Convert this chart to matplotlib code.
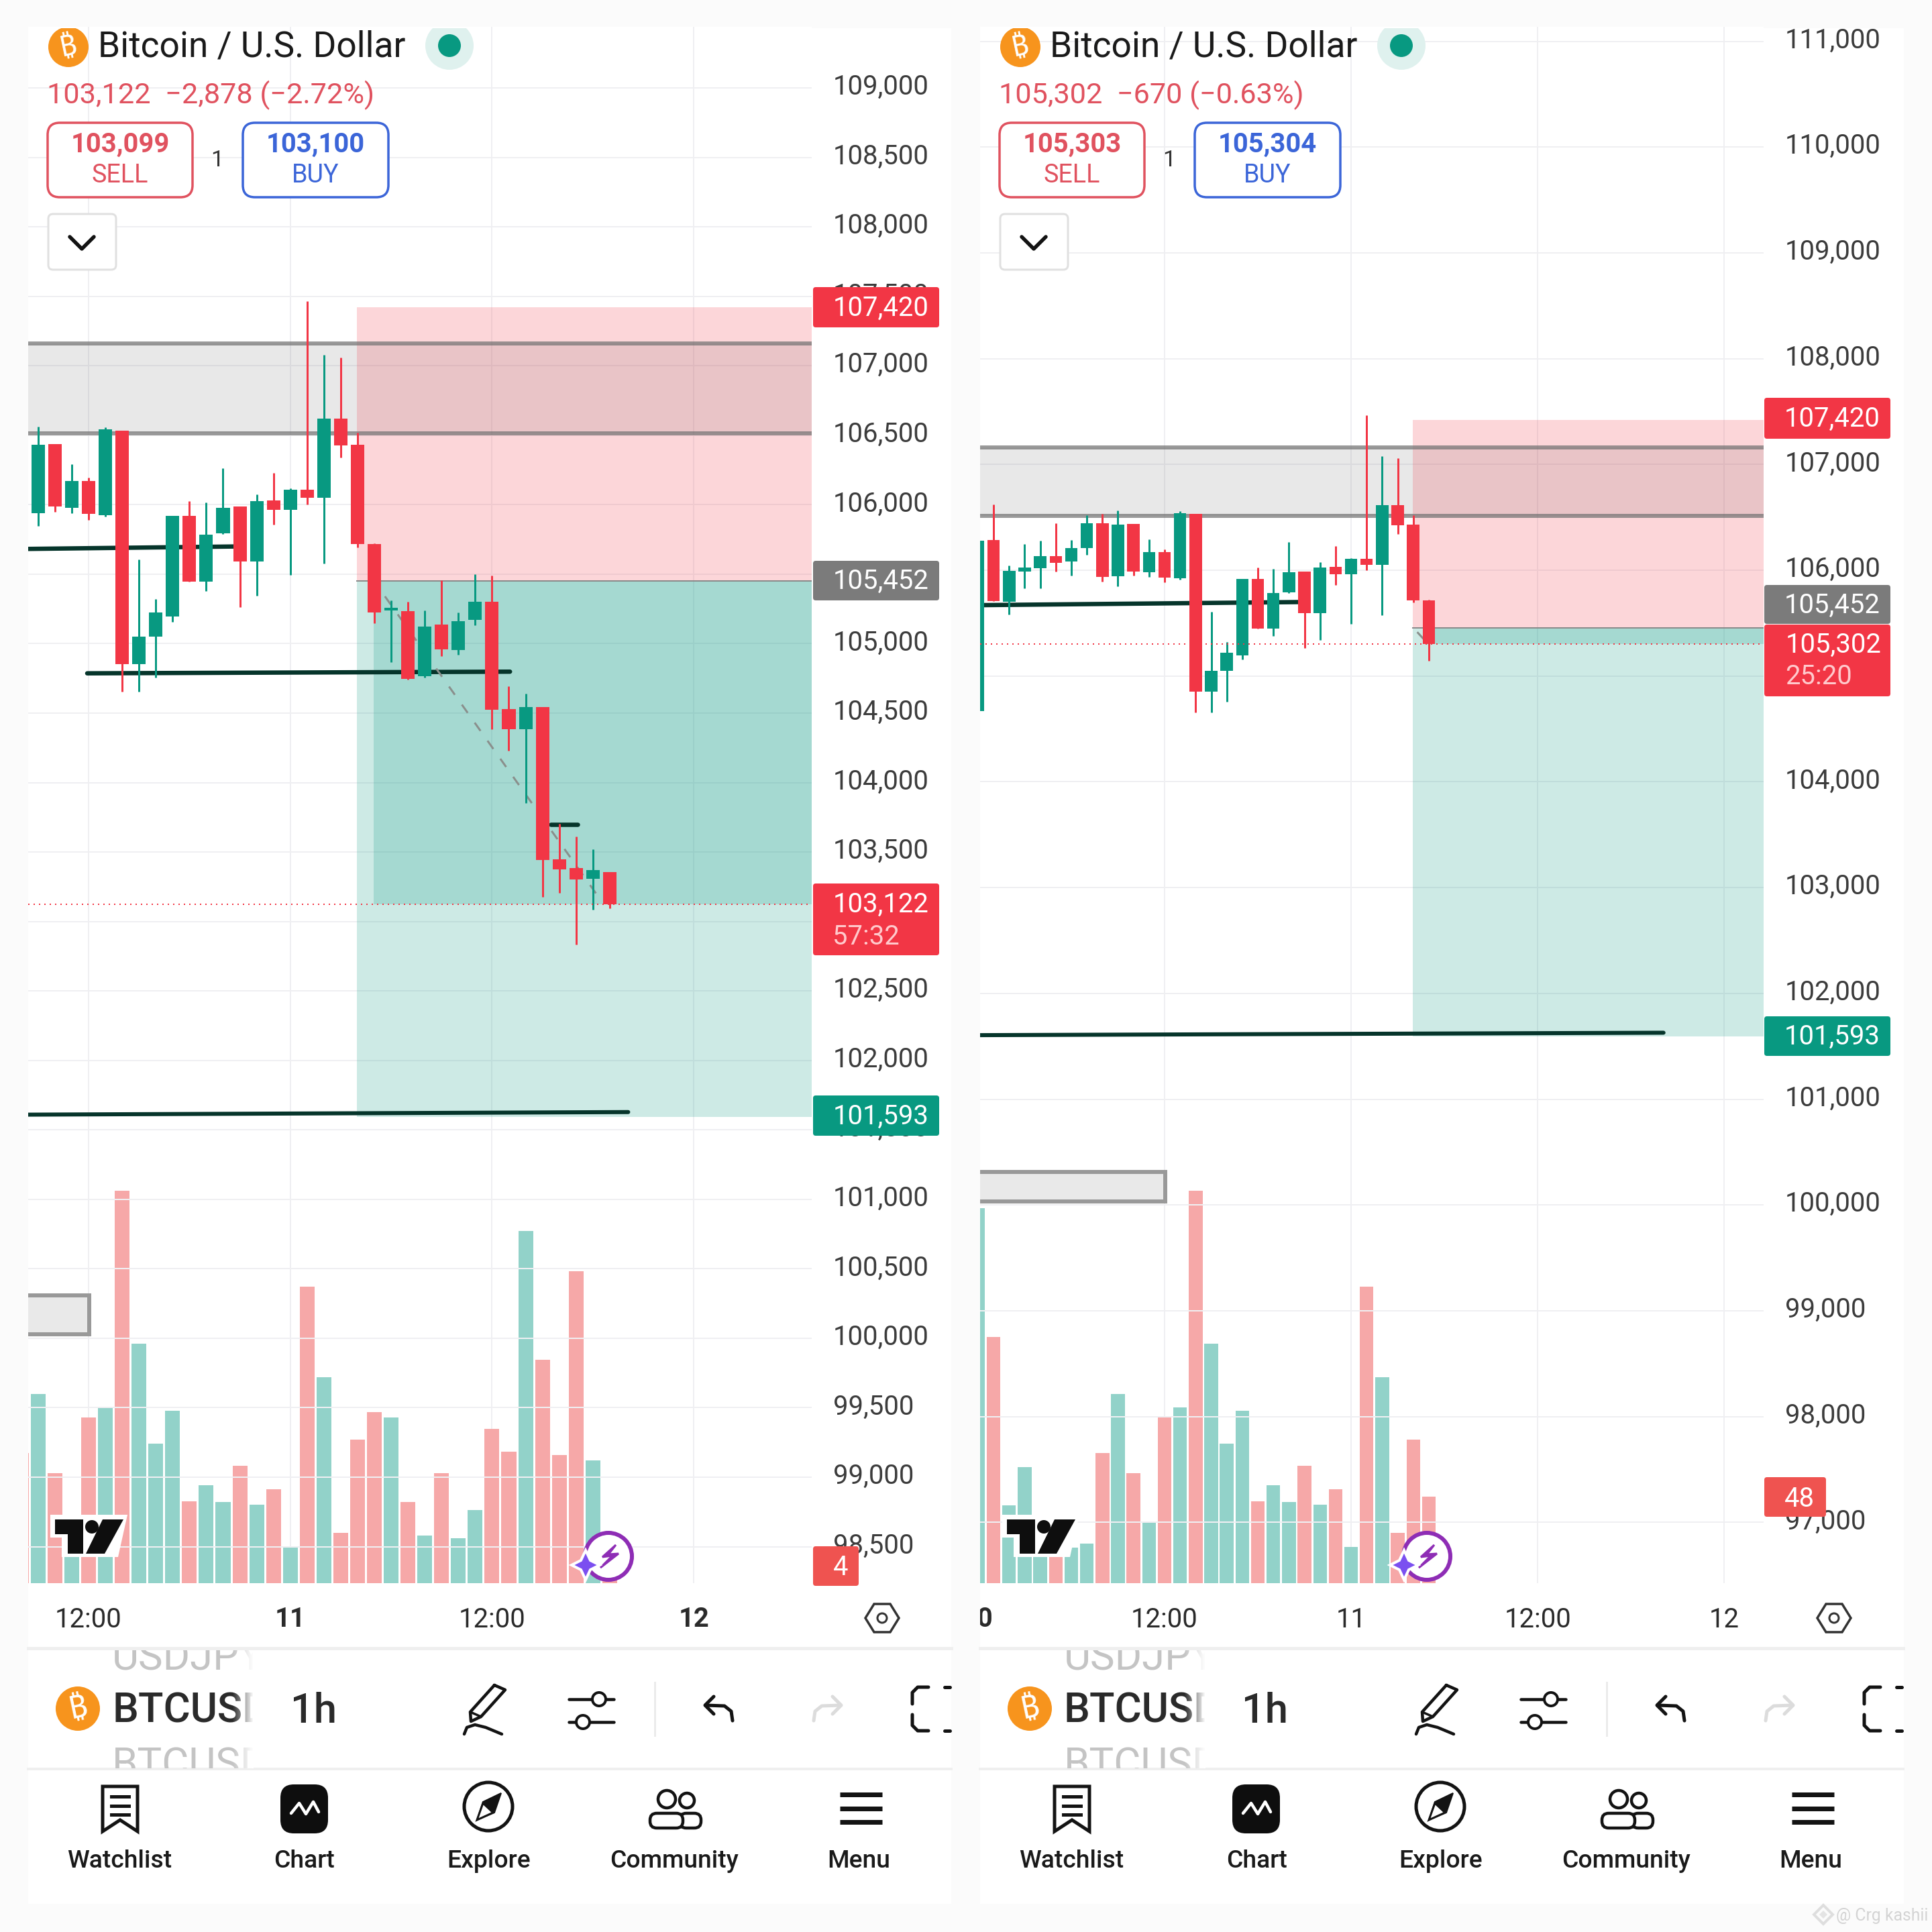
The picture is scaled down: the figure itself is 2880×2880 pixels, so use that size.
import numpy as np
import matplotlib
matplotlib.use('Agg')
import matplotlib.pyplot as plt
from matplotlib.patches import Circle, FancyBboxPatch, Polygon, Rectangle
from matplotlib.ticker import FixedLocator, FuncFormatter
from matplotlib.transforms import ScaledTranslation

plt.rcParams['font.family'] = ['Roboto', 'DejaVu Sans']

# hourly bars, hour 0 = 12:00 on the 10th
hours = list(range(-12, 32))
bar_open = [104668, 106287, 105704, 105989, 106017, 106135, 106080, 106209, 106441,
            105941, 106437, 105978, 106172, 105925, 106535, 104854, 105048, 105195,
            105919, 105448, 105793, 105987, 105593, 106030, 105965, 106110, 106052,
            106618, 106431, 105716, 105239, 105236, 104764, 105137, 104955, 105171,
            105303, 104527, 104382, 104542, 103449, 103384, 103308, 103357]
bar_close = [106279, 105708, 105995, 106025, 106135, 106069, 106207, 106441, 105936,
             106431, 105987, 106172, 105932, 106541, 104854, 105051, 105223, 105919,
             105448, 105784, 105978, 105593, 106024, 105965, 106107, 106049, 106618,
             106427, 105716, 105223, 105257, 104746, 105121, 104958, 105162, 105303,
             104524, 104382, 104542, 103443, 103375, 103304, 103369, 103122]
bar_high = [106279, 106621, 106042, 106247, 106279, 106441, 106285, 106518, 106532,
            106563, 106437, 106289, 106196, 106557, 106535, 105605, 105322, 105919,
            106024, 106015, 106264, 105987, 106073, 106227, 106116, 107465, 107080,
            107059, 106517, 105719, 105309, 105303, 105239, 105454, 105223, 105500,
            105491, 104693, 104641, 104542, 103702, 103609, 103520, 103357]
bar_low = [104668, 105708, 105581, 105831, 105831, 105989, 105947, 106148, 105894,
           105848, 105950, 105938, 105888, 105913, 104653, 104653, 104755, 105155,
           105448, 105380, 105787, 105263, 105343, 105858, 105494, 106002, 105577,
           106341, 105694, 105146, 104869, 104740, 104758, 104909, 104918, 105134,
           104385, 104231, 103853, 103178, 103206, 102836, 103086, 103095]
volume = [1252, 822, 260, 387, 157, 157, 119, 132, 435, 632, 367, 202, 554, 587, 1311,
          800, 465, 576, 273, 327, 271, 393, 261, 314, 121, 990, 687, 168, 479, 572,
          554, 270, 159, 367, 150, 245, 515, 439, 1177, 747, 427, 1041, 410, 12]

# the right screenshot was taken while hour 17 was still forming
live_bar = dict(open=105716, close=105302, high=105719, low=105144, volume=288)

stop_price = 107420
entry_price = 105452
target_price = 101593
zone_top, zone_bottom = 107158, 106512
box_top, box_bottom = 100310, 100030
trend_a = [(-11.7, 105670), (8.7, 105699)]
trend_b = [(-0.08, 104786), (25.07, 104798)]
trend_c = [(27.5, 103698), (29.1, 103698)]
trend_d = [(-12, 101605), (32.1, 101628)]
path_left = [(17.63, 105340), (30.56, 103138)]
path_right = [(16.3, 105408), (16.9, 105312)]

left_ticks = list(range(98500, 109001, 500))
right_ticks = list(range(97000, 111001, 1000))

GREEN = '#089981'
RED = '#F23645'
TEXT_RED = '#E0525F'
BLUE = '#3B65D8'
INK = '#131313'
DARK_LINE = '#06352B'

W = 2880
fig = plt.figure(figsize=(10, 10), dpi=288, facecolor='#FBFBFB')
PX = 72 / 288  # points per pixel


def box(x0, y0, x1, y1):
    return [x0 / W, 1 - y1 / W, (x1 - x0) / W, (y1 - y0) / W]


def draw_chart(x0, x1, t_x, px_per_hour, p0, p0_y, px_per_price, ticks, grid_hours, n_bars, live, last_price):
    y0, y1 = 40, 2360
    vol_ax = fig.add_axes(box(x0, y0, x1, y1), zorder=2)
    ax = vol_ax.twinx()
    ax.set_zorder(3)
    ax.patch.set_visible(False)
    xlim = ((x0 - t_x) / px_per_hour, (x1 - t_x) / px_per_hour)
    vol_ax.set_xlim(xlim)
    vol_ax.set_ylim(0, (y1 - y0) / 0.4464)
    ax.set_ylim(p0 - (y1 - p0_y) / px_per_price, p0 + (p0_y - y0) / px_per_price)
    for a in (vol_ax, ax):
        for s in a.spines.values():
            s.set_visible(False)

    t = np.array(hours[:n_bars], dtype=float)
    o = list(bar_open[:n_bars])
    c = list(bar_close[:n_bars])
    h = list(bar_high[:n_bars])
    l = list(bar_low[:n_bars])
    v = list(volume[:n_bars])
    if live:
        t = np.append(t, 17.0)
        o.append(live['open']); c.append(live['close'])
        h.append(live['high']); l.append(live['low'])
        v.append(live['volume'])
    o, c, h, l, v = map(np.array, (o, c, h, l, v))
    up = c >= o
    colors = np.where(up, GREEN, RED)

    # grid
    vol_ax.set_yticks([])
    vol_ax.xaxis.set_major_locator(FixedLocator(grid_hours))
    vol_ax.tick_params(axis='x', length=0, labelbottom=False)
    vol_ax.grid(axis='x', color='#EFEFF2', lw=2 * PX, zorder=0)
    vol_ax.set_axisbelow(True)
    ax.yaxis.set_major_locator(FixedLocator(ticks))
    ax.yaxis.set_major_formatter(FuncFormatter(lambda p, _: f'{int(p):,}'))
    ax.tick_params(axis='y', length=0, pad=7.9, labelsize=10, labelcolor='#3C3C3C')
    for lab in ax.get_yticklabels():
        lab.set_ha('left')
        lab.set_transform(lab.get_transform() + ScaledTranslation(0, 5.5 / 288, fig.dpi_scale_trans))
    ax.grid(axis='y', color='#EFEFF2', lw=2 * PX, zorder=0)
    ax.set_axisbelow(True)

    # volume
    vol_ax.bar(t, v, width=0.88, color=np.where(up, '#92D2C9', '#F6A8A8'), zorder=1)

    # sell position and range box
    end = xlim[1]
    start = 15.95
    ax.fill_between(xlim, zone_bottom, zone_top, color='#808080', alpha=0.18, lw=0, zorder=1)
    ax.fill_between([start, end], entry_price, stop_price, color=RED, alpha=0.2, lw=0, zorder=1.1)
    ax.fill_between([start, end], target_price, entry_price, color=GREEN, alpha=0.2, lw=0, zorder=1.1)
    ax.fill_between([16.95, end], last_price, entry_price, color=GREEN, alpha=0.2, lw=0, zorder=1.1)
    ax.plot([start, end], [entry_price, entry_price], color='#8A8A8A', lw=2 * PX, zorder=1.2)
    for p in (zone_top, zone_bottom):
        ax.plot(xlim, [p, p], color='#707070', alpha=0.7, lw=6 * PX, zorder=1.3, solid_capstyle='butt')
    ax.add_patch(Rectangle((-13, box_bottom), 13.05, box_top - box_bottom, fc='#E9E9E9',
                           ec='#999999', lw=6 * PX, zorder=1.3))
    # candles
    ax.vlines(t, l, h, colors=colors, lw=3 * PX, zorder=5)
    ax.bar(t, np.abs(c - o), bottom=np.minimum(o, c), width=0.8, color=colors, zorder=5)
    ax.plot(xlim, [last_price, last_price], color=RED, lw=2 * PX, ls=(0, (1, 3)), zorder=6)
    return ax, xlim


# chart panels ------------------------------------------------------------------
base = fig.add_axes([0, 0, 1, 1], zorder=0)
base.set_xlim(0, W); base.set_ylim(W, 0); base.axis('off')
base.add_patch(Rectangle((42, 42), 1376, 2796, fc='white', ec='none'))
base.add_patch(Rectangle((1461, 42), 1377, 2796, fc='white', ec='none'))

ax_l, xlim_l = draw_chart(42, 1210, 132, 25.06, 109000, 131, 0.2071, left_ticks,
                          [0, 12, 24, 36], 44, None, 103122)
ax_r, xlim_r = draw_chart(1461, 2629, 1736, 23.17, 111000, 61.5, 0.1577, right_ticks,
                          [0, 12, 24, 36], 29, live_bar, 105302)

for ax in (ax_l, ax_r):
    ax.plot(*zip(*trend_a), color=DARK_LINE, lw=6.5 * PX, zorder=4, solid_capstyle='round')
    ax.plot(*zip(*trend_d), color=DARK_LINE, lw=6 * PX, zorder=4, solid_capstyle='round')
ax_l.plot(*zip(*trend_b), color=DARK_LINE, lw=6.5 * PX, zorder=4, solid_capstyle='round')
ax_l.plot(*zip(*trend_c), color=DARK_LINE, lw=6.5 * PX, zorder=4, solid_capstyle='round')
ax_l.plot(*zip(*path_left), color='#8A8F8C', lw=3 * PX, ls=(0, (5, 6)), zorder=4)
ax_r.plot(*zip(*path_right), color='#8A8F8C', lw=3 * PX, zorder=4)

# overlay in pixel coordinates -----------------------------------------------------
ui = fig.add_axes([0, 0, 1, 1], zorder=10)
ui.set_xlim(0, W); ui.set_ylim(W, 0); ui.axis('off'); ui.patch.set_visible(False)


def txt(x, y, s, size=10, color=INK, weight='normal', ha='center', clip=None, **kw):
    t = ui.text(x, y - 2, s, fontsize=size, color=color, fontweight=weight, ha=ha, va='center_baseline', **kw)
    if clip is not None:
        t.set_clip_path(Rectangle((clip[0], clip[1]), clip[2] - clip[0], clip[3] - clip[1], transform=ui.transData))
        t.set_clip_on(True)
    return t


def rbox(x0, y0, x1, y1, r=6, fc='none', ec='none', lw=0, z=2):
    p = FancyBboxPatch((x0, y0), x1 - x0, y1 - y0, boxstyle=f'round,pad=0,rounding_size={r}', fc=fc, ec=ec, lw=lw * PX, zorder=z)
    ui.add_patch(p)
    return p


def line(pts, color=INK, lw=5, z=3, **kw):
    xs, ys = zip(*pts)
    ui.plot(xs, ys, color=color, lw=lw * PX, zorder=z, solid_capstyle='round', solid_joinstyle='round', **kw)


def btc_coin(cx, cy, r, size, top=None):
    c = Circle((cx, cy), r, fc='#F7941D', ec='none', zorder=2)
    ui.add_patch(c)
    if top is not None:
        c.set_clip_path(Rectangle((cx - r, top), 2 * r, 2 * r, transform=ui.transData))
    ui.text(cx, cy, '\u20bf', fontsize=size, color='white', fontweight='bold', ha='center', va='center',
            rotation=12, family=['Noto Sans', 'Open Sans', 'DejaVu Sans'], zorder=3)


def draw_tags(dx, rows):
    for y0, y1, fc, label in rows:
        rbox(1212 + dx, y0, 1400 + dx, y1, r=4, fc=fc, z=4)
        txt(1313 + dx, (y0 + y1) / 2 - 1, label, color='white').set_zorder(5)


def draw_header(dx, quote, sell, buy):
    halo = Circle((670 + dx, 68), 36, fc='#DFF1EE', ec='none', zorder=2)
    ui.add_patch(halo)
    halo.set_clip_path(Rectangle((620 + dx, 42), 110, 80, transform=ui.transData))
    ui.add_patch(Circle((670 + dx, 68), 17, fc=GREEN, ec='none', zorder=3))
    btc_coin(102 + dx, 70, 30, 11, top=42)
    txt(146 + dx, 67, 'Bitcoin / U.S. Dollar', size=13.3, ha='left', color='#1A1A1A')
    txt(70 + dx, 139, quote, size=10.8, ha='left', color=TEXT_RED)
    rbox(71 + dx, 183, 287 + dx, 294, r=18, fc='white', ec=TEXT_RED, lw=3.5)
    txt(179 + dx, 214, sell, size=10, color=TEXT_RED, weight='bold')
    txt(179 + dx, 259, 'SELL', size=9.4, color=TEXT_RED)
    txt(324 + dx, 237, '1', size=8.5, color='#333333')
    rbox(362 + dx, 183, 579 + dx, 294, r=18, fc='white', ec=BLUE, lw=3.5)
    txt(470 + dx, 214, buy, size=10, color=BLUE, weight='bold')
    txt(470 + dx, 259, 'BUY', size=9.4, color=BLUE)
    rbox(72 + dx, 319, 173 + dx, 402, r=7, fc='white', ec='#E0E0E0', lw=3)
    line([(104 + dx, 353), (122 + dx, 371), (140 + dx, 353)], lw=5.5)


def draw_logo(dx):
    ui.add_patch(Polygon([(75 + dx, 2258), (190 + dx, 2258), (176 + dx, 2321), (92 + dx, 2321), (92 + dx, 2292), (75 + dx, 2292)],
                         fc='white', ec='none', zorder=2))
    ui.add_patch(Polygon([(82 + dx, 2265), (124 + dx, 2265), (124 + dx, 2316), (101 + dx, 2316), (101 + dx, 2287), (82 + dx, 2287)],
                         fc='#0E0E0E', ec='none', zorder=3))
    ui.add_patch(Circle((137 + dx, 2276), 10, fc='#0E0E0E', ec='none', zorder=3))
    ui.add_patch(Polygon([(153 + dx, 2265), (184 + dx, 2265), (156 + dx, 2316), (128 + dx, 2316)], fc='#0E0E0E', ec='none', zorder=3))


def draw_bolt(cx, sx):
    cy = 2320
    ui.add_patch(Circle((cx, cy), 35, fc='white', ec='#8E2DB5', lw=6 * PX, zorder=3))
    bolt = [(11, -17), (-9, 1), (6, -1), (-12, 17), (15, -4), (0, -3)]
    ui.add_patch(Polygon([(cx + a, cy + b) for a, b in bolt], fc='#8E2DB5', ec='#8E2DB5', lw=3 * PX, zorder=4))
    sy = 2333
    star = [(0, -22), (7, -7), (21, 0), (7, 7), (0, 22), (-7, 7), (-21, 0), (-7, -7)]
    ui.add_patch(Polygon([(sx + a, sy + b) for a, b in star], fc='#7B4FF0', ec='white', lw=4 * PX, zorder=5))


def draw_toolbar(dx):
    ui.plot([42 + dx, 1418 + dx], [2457, 2457], color='#EFEFEF', lw=5 * PX, zorder=2)
    ui.plot([42 + dx, 1418 + dx], [2637, 2637], color='#EFEFEF', lw=4 * PX, zorder=2)
    # settings hexagon under the price scale
    hexa = [(1303, 2391), (1327, 2391), (1340, 2412), (1327, 2433), (1303, 2433), (1290, 2412)]
    ui.add_patch(Polygon([(a + dx, b) for a, b in hexa], fc='none', ec='#333333', lw=3.5 * PX, zorder=3))
    ui.add_patch(Circle((1315 + dx, 2412), 7, fc='none', ec='#333333', lw=3 * PX, zorder=3))

    btc_coin(116 + dx, 2547, 33, 12)
    bar_clip = (0, 2460, 378 + dx, 2636)
    txt(167 + dx, 2547, 'BTCUSD', size=15.4, color='#2A2A2A', ha='left', weight='medium', clip=bar_clip)
    txt(167 + dx, 2468, 'USDJPY', size=15.4, color='#C4C4C4', ha='left', clip=bar_clip)
    txt(167 + dx, 2628, 'BTCUSD', size=15.4, color='#C4C4C4', ha='left', clip=bar_clip)
    fade = np.ones((1, 32, 4))
    fade[0, :, 3] = np.arange(32) / 31
    ui.imshow(fade, extent=(346 + dx, 378 + dx, 2636, 2460), aspect='auto', zorder=4)
    ui.set_xlim(0, W); ui.set_ylim(W, 0)
    txt(467 + dx, 2547, '1h', size=15.4, color='#2A2A2A', weight='medium')

    # pencil
    line([(737 + dx, 2512), (753 + dx, 2519), (717 + dx, 2559), (702 + dx, 2566), (701 + dx, 2552), (737 + dx, 2512)], lw=4.5)
    line([(701 + dx, 2552), (717 + dx, 2559)], lw=3.5)
    line([(692 + dx, 2585), (696 + dx, 2575), (708 + dx, 2571), (724 + dx, 2575), (748 + dx, 2585)], lw=4.5)
    # sliders
    line([(848 + dx, 2533), (915 + dx, 2533)], lw=4.5)
    line([(848 + dx, 2567), (915 + dx, 2567)], lw=4.5)
    ui.add_patch(Circle((893 + dx, 2533), 10, fc='white', ec=INK, lw=4 * PX, zorder=4))
    ui.add_patch(Circle((869 + dx, 2567), 10, fc='white', ec=INK, lw=4 * PX, zorder=4))
    ui.plot([976 + dx, 976 + dx], [2508, 2587], color='#EBEBEB', lw=3 * PX, zorder=2)
    # undo / redo
    undo = [(1092, 2565), (1090, 2551), (1080, 2543), (1052, 2542)]
    head = [(1064, 2529), (1051, 2542), (1064, 2555)]
    line([(a + dx, b) for a, b in undo], lw=5)
    line([(a + dx, b) for a, b in head], lw=5)
    line([(2305 - a + dx, b) for a, b in undo], color='#DCDCDC', lw=5)
    line([(2305 - a + dx, b) for a, b in head], color='#DCDCDC', lw=5)
    # fullscreen corners, cut off by the panel edge
    line([(1384 + dx, 2515), (1368 + dx, 2515), (1360 + dx, 2523), (1360 + dx, 2540)], lw=5)
    line([(1384 + dx, 2580), (1368 + dx, 2580), (1360 + dx, 2572), (1360 + dx, 2556)], lw=5)
    line([(1408 + dx, 2515), (1416 + dx, 2515)], lw=5)
    line([(1408 + dx, 2580), (1416 + dx, 2580)], lw=5)

    # bottom navigation
    for x, s in zip([178, 454, 729, 1005, 1280], ['Watchlist', 'Chart', 'Explore', 'Community', 'Menu']):
        txt(x + dx, 2772, s, size=9.3, weight='medium', color='#1A1A1A')
    mark = [(153, 2663), (205, 2663), (205, 2730), (179, 2713), (153, 2730)]
    ui.add_patch(Polygon([(a + dx, b) for a, b in mark], fc='white', ec=INK, lw=5 * PX, zorder=3))
    for y in (2678, 2692, 2705):
        ui.plot([166 + dx, 192 + dx], [y, y], color=INK, lw=5 * PX, zorder=4)
    rbox(418 + dx, 2660, 489 + dx, 2733, r=20, fc='#0E0E0E', z=3)
    line([(434 + dx, 2703), (446 + dx, 2688), (456 + dx, 2704), (467 + dx, 2686), (475 + dx, 2701)], color='white', lw=4.5, z=4)
    ui.add_patch(Circle((728 + dx, 2693), 36, fc='white', ec=INK, lw=5 * PX, zorder=3))
    ui.add_patch(Polygon([(747 + dx, 2673), (737 + dx, 2702), (711 + dx, 2713), (720 + dx, 2686)], fc=INK, ec=INK, lw=2 * PX, zorder=4))
    ui.add_patch(Polygon([(711 + dx, 2713), (720 + dx, 2688), (735 + dx, 2702)], fc='white', ec=INK, lw=3 * PX, zorder=5))
    ui.add_patch(Circle((994 + dx, 2682), 13, fc='white', ec=INK, lw=4.5 * PX, zorder=3))
    ui.add_patch(Circle((1024 + dx, 2684), 11, fc='white', ec=INK, lw=4.5 * PX, zorder=3))
    rbox(1013 + dx, 2703, 1045 + dx, 2725, r=10, fc='white', ec=INK, lw=4.5, z=3)
    rbox(969 + dx, 2703, 1018 + dx, 2725, r=10, fc='white', ec=INK, lw=4.5, z=4)
    for y in (2675, 2696, 2716):
        ui.plot([1252 + dx, 1315 + dx], [y, y], color=INK, lw=7 * PX, zorder=3, solid_capstyle='butt')


# time axis labels, drawn with the same x as the grid
def time_labels(xlim, x0, x1, rows):
    for t, s, w in rows:
        px = x0 + (t - xlim[0]) / (xlim[1] - xlim[0]) * (x1 - x0)
        txt(px, 2412, s, weight=w, color='#2A2A2A', clip=(x0, 2380, x1 + 210, 2440))


time_labels(xlim_l, 42, 1210, [(0, '12:00', 'normal'), (12, '11', 'bold'), (24, '12:00', 'normal'), (36, '12', 'bold')])
time_labels(xlim_r, 1461, 2629, [(-12, '10', 'bold'), (0, '12:00', 'normal'), (12, '11', 'normal'), (24, '12:00', 'normal'), (36, '12', 'normal')])

draw_header(0, '103,122  \u22122,878 (\u22122.72%)', '103,099', '103,100')
draw_header(1419, '105,302  \u2212670 (\u22120.63%)', '105,303', '105,304')
draw_toolbar(0)
draw_toolbar(1419)
draw_logo(0)
draw_logo(1419)
draw_bolt(907, 873)
draw_bolt(2127, 2093)

# price tags
draw_tags(0, [(428, 488, RED, '107,420'), (836, 895, '#7B7B7B', '105,452'), (1633, 1693, GREEN, '101,593')])
draw_tags(1418, [(593, 654, RED, '107,420'), (872, 930, '#7B7B7B', '105,452'), (1515, 1574, GREEN, '101,593')])
rbox(1212, 1317, 1400, 1424, r=4, fc=RED, z=4)
txt(1313, 1346, '103,122', color='white').set_zorder(5)
txt(1291, 1394, '57:32', color='#FFC9CC').set_zorder(5)
rbox(2630, 931, 2818, 1038, r=4, fc=RED, z=4)
txt(2733, 959, '105,302', color='white').set_zorder(5)
txt(2711, 1007, '25:20', color='#FFC9CC').set_zorder(5)
rbox(1212, 2305, 1280, 2364, r=4, fc='#EF5350', z=4)
txt(1253, 2335, '4', color='white').set_zorder(5)
rbox(2630, 2202, 2722, 2261, r=4, fc='#EF5350', z=4)
txt(2682, 2232, '48', color='white').set_zorder(5)

# watermark
ui.add_patch(Polygon([(2718, 2840), (2732, 2854), (2718, 2868), (2704, 2854)], fc='none', ec='#DEDEDE', lw=4 * PX))
ui.add_patch(Polygon([(2718, 2848), (2724, 2854), (2718, 2860), (2712, 2854)], fc='#E4E4E4', ec='none'))
txt(2737, 2856, '@ Crg kashii', size=6.2, color='#D4D4D4', ha='left')

fig.savefig('out.png', dpi=288, facecolor=fig.get_facecolor())
